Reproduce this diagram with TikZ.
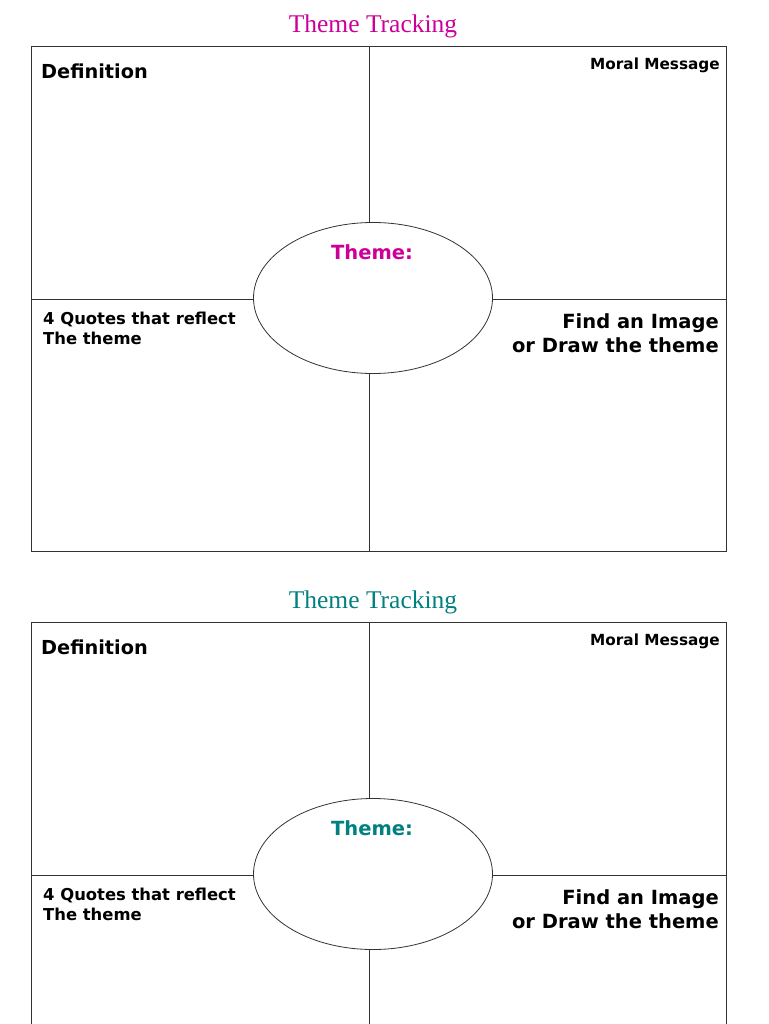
\documentclass[tikz,border=0pt]{standalone}
\usepackage{fontspec}
\setmainfont{Liberation Serif}
\newfontfamily\lab{DejaVu Sans}
\usetikzlibrary{shapes.geometric}
\definecolor{mag}{HTML}{CC0099}
\definecolor{tealc}{HTML}{008080}
\tikzset{
 ttl/.style={font=\fontsize{25.5}{28}\selectfont},
 lb/.style={font=\lab\bfseries, inner sep=0pt},
 ln/.style={draw=black!80, line width=0.8pt},
 ov/.style={ellipse, ln, fill=white, minimum width=239pt, minimum height=151pt, inner sep=0pt},
 thf/.style={font=\lab\bfseries\fontsize{19.5}{22}\selectfont},
 dff/.style={font=\lab\bfseries\fontsize{19.3}{22}\selectfont},
 mmf/.style={font=\lab\bfseries\fontsize{15.3}{18}\selectfont},
 qf/.style={font=\lab\bfseries\fontsize{16.4}{20}\selectfont},
 fif/.style={font=\lab\bfseries\fontsize{19.5}{24}\selectfont}
}
\begin{document}
\begin{tikzpicture}[x=1pt,y=-1pt]
\useasboundingbox (0,0) rectangle (768,1024);
% Panel 1
\node[ttl, text=mag] (t1) at (373,26) {Theme Tracking};
\draw[ln] (31,46) rectangle (726,551);
\coordinate (a1) at (369,46); \coordinate (b1) at (369,551);
\coordinate (c1) at (31,299); \coordinate (d1) at (726,299);
\draw[ln] (a1)--(b1); \draw[ln] (c1)--(d1);
\node[ov] (e1) at (373,298) {};
\node[lb, thf, text=mag] (th1) at (372,252) {Theme:};
\node[lb, dff, anchor=west] (df1) at (41,71) {Definition};
\node[lb, mmf, anchor=east] (mm1) at (720,65) {Moral Message};
\node[lb, qf, anchor=north west, align=left] (q1) at (43,312) {4 Quotes that reflect\\The theme};
\node[lb, fif, anchor=north east, align=right] (fi1) at (719,313) {Find an Image\\or Draw the theme};
% Panel 2
\node[ttl, text=tealc] (t2) at (373,602) {Theme Tracking};
\draw[ln] (31,1030) -- (31,622) -- (726,622) -- (726,1030);
\coordinate (a2) at (369,622); \coordinate (b2) at (369,1030);
\coordinate (c2) at (31,875); \coordinate (d2) at (726,875);
\draw[ln] (a2)--(b2); \draw[ln] (c2)--(d2);
\node[ov] (e2) at (373,874) {};
\node[lb, thf, text=tealc] (th2) at (372,828) {Theme:};
\node[lb, dff, anchor=west] (df2) at (41,647) {Definition};
\node[lb, mmf, anchor=east] (mm2) at (720,641) {Moral Message};
\node[lb, qf, anchor=north west, align=left] (q2) at (43,888) {4 Quotes that reflect\\The theme};
\node[lb, fif, anchor=north east, align=right] (fi2) at (719,889) {Find an Image\\or Draw the theme};
\end{tikzpicture}
\end{document}
